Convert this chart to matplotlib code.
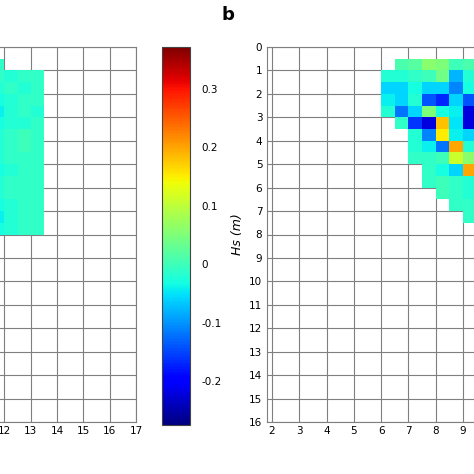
import numpy as np
import matplotlib
matplotlib.use("Agg")
import matplotlib.pyplot as plt

nan = np.nan
vmin, vmax = -0.275, 0.372
cb_ticks = [-0.2, -0.1, 0, 0.1, 0.2, 0.3]
y_ticks = list(range(0, 17))
x_ticks = list(range(2, 18))

# right panel (b): columns x 6.0..9.5 step 0.5, rows y 0.5..7.5 step 0.5
b_x_edges = [6.0, 6.5, 7.0, 7.5, 8.0, 8.5, 9.0, 9.5]
b_y_edges = [0.5, 1.0, 1.5, 2.0, 2.5, 3.0, 3.5, 4.0, 4.5, 5.0, 5.5, 6.0, 6.5, 7.0, 7.5]
b_vals = [
    [nan, 0.01, 0.02, 0.06, 0.05, 0.00, 0.01],
    [-0.02, -0.02, -0.01, 0.00, 0.04, -0.08, -0.02],
    [-0.06, -0.06, -0.03, -0.06, -0.06, -0.11, -0.03],
    [-0.04, -0.06, -0.02, -0.14, -0.17, -0.06, -0.14],
    [-0.02, -0.12, -0.06, 0.05, -0.03, -0.04, -0.22],
    [nan, -0.01, -0.16, -0.22, 0.18, -0.05, -0.22],
    [nan, nan, -0.02, -0.11, 0.15, -0.04, -0.06],
    [nan, nan, -0.02, -0.04, -0.12, 0.20, -0.02],
    [nan, nan, -0.01, -0.01, 0.00, 0.11, 0.06],
    [nan, nan, nan, -0.01, -0.03, -0.06, 0.20],
    [nan, nan, nan, -0.01, 0.00, -0.01, -0.02],
    [nan, nan, nan, nan, 0.00, -0.01, -0.02],
    [nan, nan, nan, nan, nan, -0.01, -0.01],
    [nan, nan, nan, nan, nan, nan, -0.01],
]

# left panel (a): visible columns x 11.5..13.5, rows 0.5..8.0
a_x_edges = [11.5, 12.0, 12.5, 13.0, 13.5]
a_y_edges = [0.5 + 0.5 * i for i in range(16)]
a_vals = [
    [-0.01, nan, nan, nan],
    [-0.01, -0.02, -0.01, -0.01],
    [-0.02, -0.01, -0.02, -0.01],
    [-0.03, -0.02, -0.01, -0.01],
    [-0.04, -0.02, -0.01, -0.02],
    [-0.03, -0.02, -0.02, -0.01],
    [-0.02, -0.01, 0.00, -0.01],
    [-0.02, -0.01, 0.00, -0.01],
    [-0.02, -0.01, -0.01, -0.01],
    [-0.03, -0.02, -0.01, -0.01],
    [-0.02, -0.01, -0.01, -0.01],
    [-0.02, -0.01, -0.01, -0.01],
    [-0.03, -0.02, -0.01, -0.01],
    [-0.04, -0.02, -0.01, -0.01],
    [-0.03, -0.02, -0.01, -0.01],
]

W = H = 474.0
fig = plt.figure(figsize=(4.74, 4.74), dpi=100)

def fr(x0, top, w, h):
    return [x0 / W, (H - top - h) / H, w / W, h / H]

def style(ax, xlim):
    ax.set_xticks(x_ticks)
    ax.set_yticks(y_ticks)
    ax.set_xlim(*xlim)
    ax.set_ylim(16, 0)
    ax.grid(True, color="#7f7f7f", lw=0.8)
    ax.set_axisbelow(True)
    ax.tick_params(labelsize=7.5, length=0, pad=3)
    for s in ax.spines.values():
        s.set_color("#7f7f7f")
        s.set_linewidth(0.8)

axa = fig.add_axes(fr(136 - 16 * 26.3, 47, 16 * 26.3, 375))
style(axa, (1, 17))
axa.set_yticklabels([])
axa.pcolormesh(a_x_edges, a_y_edges, np.ma.masked_invalid(np.array(a_vals)),
               cmap="jet", vmin=vmin, vmax=vmax, zorder=2)

axb = fig.add_axes(fr(266.5, 47, 15.2 * 27.3, 375))
style(axb, (1.8, 17))
axb.pcolormesh(b_x_edges, b_y_edges, np.ma.masked_invalid(np.array(b_vals)),
               cmap="jet", vmin=vmin, vmax=vmax, zorder=2)
axb.set_ylabel("Hs (m)", fontsize=9, style="italic", labelpad=4)
fig.text(228 / W, 1 - 15 / H, "b", fontsize=13, fontweight="bold", ha="center", va="center")

cax = fig.add_axes(fr(162, 47, 28, 378))
sm = matplotlib.cm.ScalarMappable(norm=matplotlib.colors.Normalize(vmin, vmax), cmap="jet")
cb = fig.colorbar(sm, cax=cax, ticks=cb_ticks)
cb.ax.tick_params(labelsize=7.5, length=0, pad=8)
cb.ax.set_yticklabels(["-0.2", "-0.1", "0", "0.1", "0.2", "0.3"])
cb.outline.set_edgecolor("#444")

fig.savefig("out.png", dpi=100)
